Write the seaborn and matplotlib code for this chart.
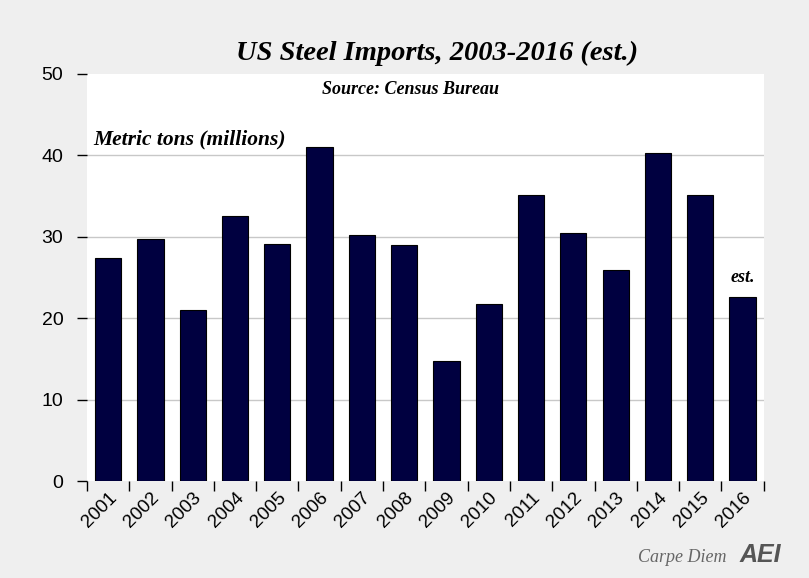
import matplotlib
matplotlib.use('Agg')
import matplotlib.pyplot as plt
import seaborn as sns
import pandas as pd
from matplotlib.ticker import FixedLocator

# values (million metric tons)
years = ['2001', '2002', '2003', '2004', '2005', '2006', '2007', '2008',
         '2009', '2010', '2011', '2012', '2013', '2014', '2015', '2016']
imports = [27.4, 29.7, 21.0, 32.6, 29.1, 41.0, 30.2, 29.0,
           14.7, 21.7, 35.1, 30.5, 25.9, 40.3, 35.1, 22.6]
y_ticks = [0, 10, 20, 30, 40, 50]

df = pd.DataFrame({'year': years, 'tons': imports})

sns.set_style('white')
plt.rcParams['font.family'] = ['Liberation Sans', 'DejaVu Sans']
plt.rcParams['text.color'] = 'black'
plt.rcParams['xtick.color'] = 'black'
plt.rcParams['ytick.color'] = 'black'

fig = plt.figure(figsize=(8.09, 5.78), dpi=100, facecolor='#efefef')
ax = fig.add_axes([0.1075, 0.1678, 0.8365, 0.7042])
ax.set_facecolor('white')

# gridlines first so bars sit on top
for v in y_ticks[1:-1]:
    ax.axhline(v, color='#c8c8c8', lw=1, zorder=0)

sns.barplot(data=df, x='year', y='tons', color='#000040', saturation=1,
            width=0.62, edgecolor='black', linewidth=0.8, ax=ax, zorder=2)

ax.set_xlim(-0.5, len(years) - 0.5)
ax.set_ylim(0, 50)
ax.set_yticks(y_ticks)
ax.set_xlabel('')
ax.set_ylabel('')
for s in ax.spines.values():
    s.set_visible(False)

# ticks: y outward, x tick marks at category boundaries only
ax.tick_params(axis='y', length=7, width=1, color='black', direction='out',
               labelsize=14, pad=10, left=True, labelcolor='black')
ax.tick_params(axis='x', which='major', length=0, labelsize=13.5, pad=6,
               labelcolor='black')
ax.xaxis.set_minor_locator(FixedLocator([i - 0.5 for i in range(len(years) + 1)]))
ax.tick_params(axis='x', which='minor', length=7, width=1, color='black',
               direction='out', bottom=True)
plt.setp(ax.get_xticklabels(), rotation=45, ha='right', rotation_mode='anchor')

serif = ['Liberation Serif', 'DejaVu Serif']
fig.text(0.54, 0.907, 'US Steel Imports, 2003-2016 (est.)', ha='center', va='center',
         fontsize=20.5, fontweight='bold', fontstyle='italic', family=serif)
fig.text(0.508, 0.845, 'Source: Census Bureau', ha='center', va='center',
         fontsize=13, fontweight='bold', fontstyle='italic', family=serif)
ax.text(0.01, 0.84, 'Metric tons (millions)', transform=ax.transAxes, ha='left',
        va='center', fontsize=15.5, fontweight='bold', fontstyle='italic', family=serif)
ax.text(len(years) - 1, imports[-1] + 1.3, 'est.', ha='center', va='bottom',
        fontsize=13, fontweight='bold', fontstyle='italic', family=serif)

fig.text(0.843, 0.036, 'Carpe Diem', ha='center', va='center', fontsize=13,
         fontstyle='italic', color='#666666', family=serif)
fig.text(0.94, 0.04, 'AEI', ha='center', va='center', fontsize=18,
         fontweight='bold', fontstyle='italic', color='#555555', family=['Liberation Sans'])

fig.savefig('out.png', dpi=100, facecolor=fig.get_facecolor())
